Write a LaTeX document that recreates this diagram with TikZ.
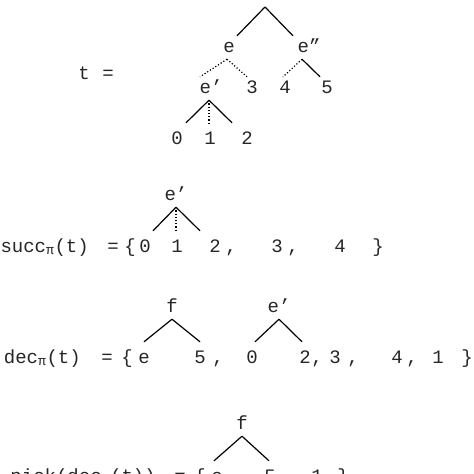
\documentclass[tikz,border=0pt]{standalone}
\usepackage{fontspec}
\setmainfont{Liberation Mono}
\tikzset{x=1pt, y=-1pt,
  lbl/.style={font=\fontsize{19}{19}\selectfont, text=black!85, text height=12pt, text depth=3pt, inner xsep=1pt, inner ysep=4pt, anchor=base},
  leaf/.style={lbl, inner ysep=9pt},
  branch/.style={line width=1.2pt},
  hidden/.style={branch, dotted}}

\begin{document}
\begin{tikzpicture}
\useasboundingbox (0,0) rectangle (474,474);
% the tree t
\node[lbl] (t) at (84,79) {t};
\node[lbl] (teq) at (108,79) {=};
\coordinate (root) at (265,7);
\node[lbl] (e) at (229,52) {e};
\node[lbl] (e2) at (309,52) {e\symbol{"22}};
\node[lbl] (e1) at (211,93) {e'};
\node[lbl] (n3) at (252,93) {3};
\node[lbl] (n4) at (285,93) {4};
\node[lbl] (n5) at (327,93) {5};
\node[leaf] (n0) at (177,144) {0};
\node[leaf] (n1) at (210,144) {1};
\node[leaf] (n2) at (247,144) {2};
\draw[branch] (root) -- ([xshift=8pt]e.north);
\draw[branch] (root) -- ([xshift=-16pt]e2.north);
\draw[hidden] ([xshift=-2pt]e.south) -- ([xshift=-11pt]e1.north);
\draw[hidden] ([xshift=-2pt]e.south) -- ([xshift=-5pt]n3.north);
\draw[hidden] ([xshift=-7pt]e2.south) -- ([xshift=-2pt]n4.north);
\draw[branch] ([xshift=-7pt]e2.south) -- ([xshift=-7pt]n5.north);
\draw[branch] ([xshift=-2pt]e1.south) -- ([xshift=9pt]n0.north);
\draw[hidden] ([xshift=-2pt]e1.south) -- ([xshift=-1pt]n1.north);
\draw[branch] ([xshift=-2pt]e1.south) -- ([xshift=-15pt]n2.north);

% succ
\node[leaf, anchor=base east] (succ) at (90,252) {succ\textsubscript{π}(t)};
\node[leaf] (seq) at (113,252) {=};
\node[leaf] (sopen) at (130,252) {\{};
\node[leaf] (s0) at (145,252) {0};
\node[leaf] (s1) at (177,252) {1};
\node[leaf] (s2) at (215,252) {2};
\node[leaf] (sc1) at (231,252) {,};
\node[leaf] (s3) at (277,252) {3};
\node[leaf] (sc2) at (293,252) {,};
\node[leaf] (s4) at (340,252) {4};
\node[leaf] (sclose) at (378,252) {\}};
\node[lbl] (se1) at (176,200) {e'};
\draw[branch] (se1.south) -- ([xshift=8pt]s0.north);
\draw[hidden] (se1.south) -- ([xshift=-1pt]s1.north);
\draw[branch] (se1.south) -- ([xshift=-15pt]s2.north);

% dec
\node[leaf, anchor=base east] (dec) at (82,363) {dec\textsubscript{π}(t)};
\node[leaf] (deq) at (107,363) {=};
\node[leaf] (dopen) at (127,363) {\{};
\node[leaf] (de) at (144,363) {e};
\node[leaf] (d5) at (200,363) {5};
\node[leaf] (dc1) at (218,363) {,};
\node[leaf] (d0) at (252,363) {0};
\node[leaf] (d2) at (305,363) {2};
\node[leaf] (dc2) at (317,363) {,};
\node[leaf] (d3) at (335,363) {3};
\node[leaf] (dc3) at (353,363) {,};
\node[leaf] (d4) at (397,363) {4};
\node[leaf] (dc4) at (412,363) {,};
\node[leaf] (d1) at (438,363) {1};
\node[leaf] (dclose) at (467,363) {\}};
\node[lbl] (df) at (172,312) {f};
\node[lbl] (de1) at (279,312) {e'};
\draw[branch] (df.south) -- (de.north);
\draw[branch] (df.south) -- (d5.north);
\draw[branch] (de1.south) -- ([xshift=3pt]d0.north);
\draw[branch] (de1.south) -- ([xshift=-3pt]d2.north);

% pick (cut by the lower edge, as in the original)
\node[leaf, anchor=base east] (pick) at (157,482) {pick(dec\textsubscript{π}(t))};
\node[leaf] (peq) at (180,482) {=};
\node[leaf] (popen) at (200,482) {\{};
\node[leaf] (pe) at (217,482) {e};
\node[leaf] (p5) at (270,482) {5};
\node[leaf] (pc1) at (287,482) {,};
\node[leaf] (p1) at (317,482) {1};
\node[leaf] (pclose) at (343,482) {\}};
\node[lbl] (pf) at (242,429) {f};
\draw[branch] (pf.south) -- ([xshift=-3pt]pe.north);
\draw[branch] (pf.south) -- ([xshift=-1pt]p5.north);
\end{tikzpicture}
\end{document}
